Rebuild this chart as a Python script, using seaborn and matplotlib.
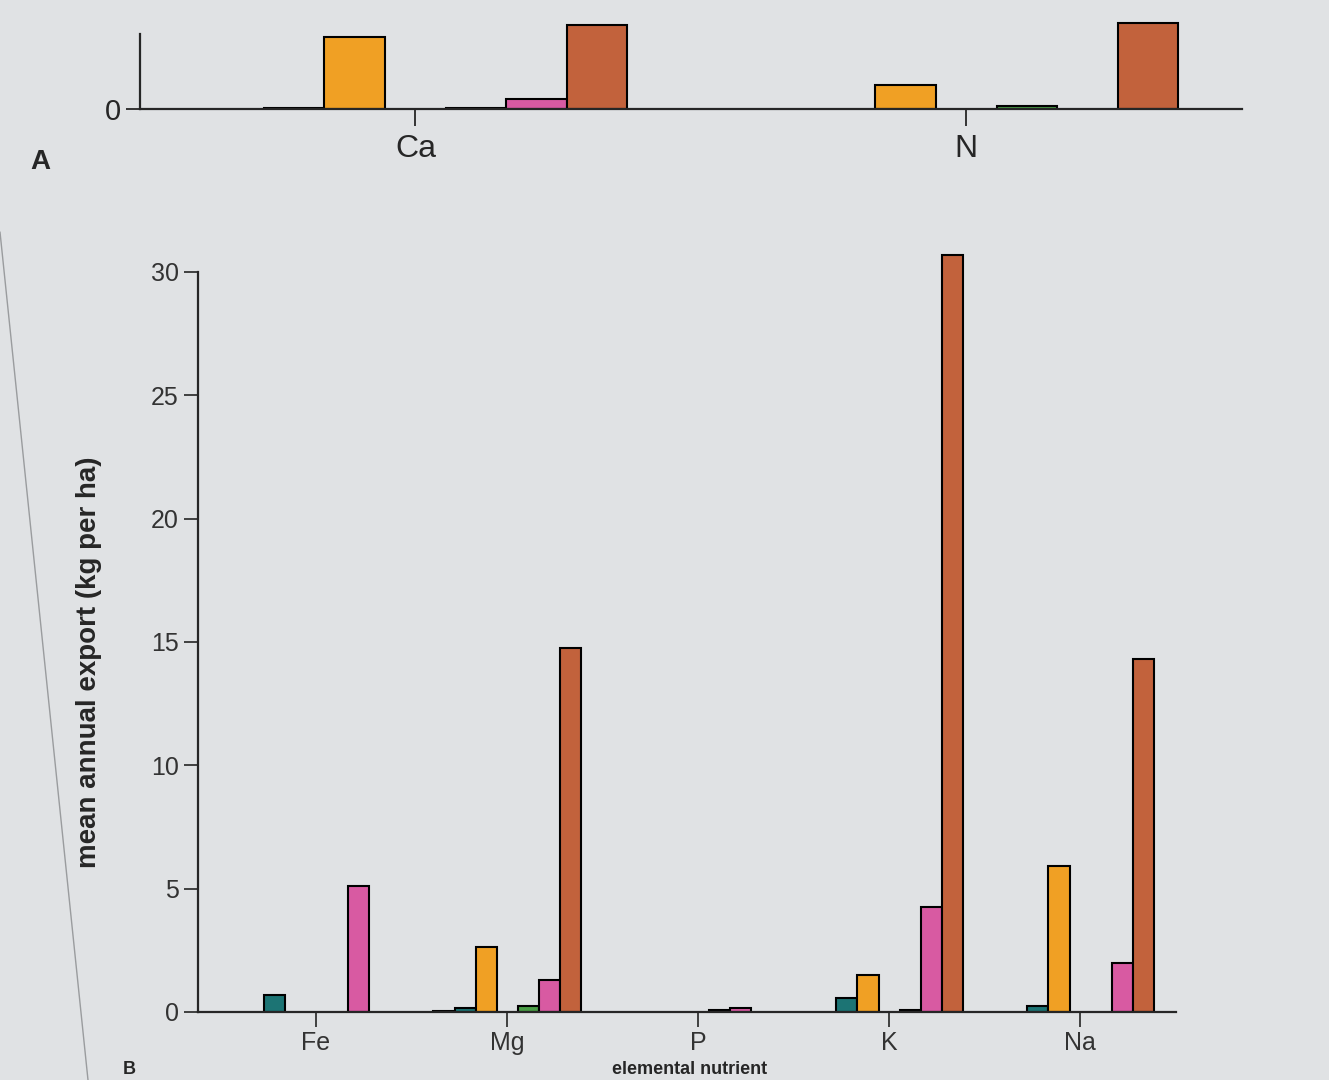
import numpy as np
import pandas as pd
import matplotlib
matplotlib.use("Agg")
import matplotlib.pyplot as plt
import seaborn as sns
from matplotlib.lines import Line2D

# Values (kg per ha); NaN = no bar drawn
elements_top = ["Ca", "N"]
elements_bottom = ["Fe", "Mg", "P", "K", "Na"]

series_names = ["series 1", "series 2", "series 3", " ", "series 4", "series 5", "series 6"]
series_colors = ["#333333", "#1c7474", "#f0a024", "#e0e2e4", "#4a9e46", "#d85aa2", "#c2623c"]

top_s1 = [np.nan, np.nan]
top_s2 = [1.5, np.nan]
top_s3 = [69.0, 23.5]
top_s4 = [1.5, 3.0]
top_s5 = [9.5, np.nan]
top_s6 = [80.5, 83.0]

bot_s1 = [np.nan, 0.05, np.nan, np.nan, np.nan]
bot_s2 = [0.67, 0.15, np.nan, 0.55, 0.25]
bot_s3 = [np.nan, 2.65, np.nan, 1.5, 5.9]
bot_s4 = [np.nan, 0.25, 0.06, 0.06, np.nan]
bot_s5 = [5.1, 1.3, 0.15, 4.25, 2.0]
bot_s6 = [np.nan, 14.75, np.nan, 30.7, 14.3]

bottom_yticks = [0, 5, 10, 15, 20, 25, 30]


def long_table(elements, cols):
    rows = []
    for name, vals in zip([n for n in series_names if n.strip()], cols):
        for el, v in zip(elements, vals):
            if not np.isnan(v):
                rows.append({"element": el, "series": name, "export": v})
    return pd.DataFrame(rows)


df_top = long_table(elements_top, [top_s1, top_s2, top_s3, top_s4, top_s5, top_s6])
df_bot = long_table(elements_bottom, [bot_s1, bot_s2, bot_s3, bot_s4, bot_s5, bot_s6])
palette = dict(zip(series_names, series_colors))

sns.set_style("ticks")
plt.rcParams["font.family"] = ["Liberation Sans", "DejaVu Sans"]
bg = "#e0e2e4"
ink = "#262626"

fig = plt.figure(figsize=(13.29, 10.8), dpi=100, facecolor=bg)

# Panel A (top, only its lower part visible)
ax_a = fig.add_axes([0.1053, 0.899, 0.829, 0.0867], facecolor=bg)
sns.barplot(data=df_top, x="element", y="export", hue="series", order=elements_top,
            hue_order=series_names, palette=palette, saturation=1, width=0.77,
            edgecolor="black", linewidth=1.5, errorbar=None, legend=False, ax=ax_a)
ax_a.set_xlim(-0.5, 1.5)
ax_a.set_ylim(0, 90)
ax_a.set_yticks([0])
ax_a.set_xlabel("")
ax_a.set_ylabel("")
sns.despine(ax=ax_a)
ax_a.spines["left"].set_bounds(0, 72)
for sp in ["left", "bottom"]:
    ax_a.spines[sp].set_linewidth(1.6)
ax_a.tick_params(axis="x", labelsize=23, length=12, width=1.3, colors=ink, pad=6)
ax_a.tick_params(axis="y", labelsize=21, length=10, width=1.3, colors=ink)

# Panel B (main)
ax_b = fig.add_axes([0.1487, 0.063, 0.7358, 0.708], facecolor=bg)
sns.barplot(data=df_bot, x="element", y="export", hue="series", order=elements_bottom,
            hue_order=series_names, palette=palette, saturation=1, width=0.77,
            edgecolor="black", linewidth=1.5, errorbar=None, legend=False, ax=ax_b)
ax_b.set_xlim(-0.62, 4.5)
ax_b.set_ylim(0, 31)
ax_b.set_yticks(bottom_yticks)
ax_b.set_xlabel("")
ax_b.set_ylabel("mean annual export (kg per ha)", fontsize=20, fontweight="bold", color=ink)
ax_b.yaxis.set_label_coords(-0.098, 0.457)
sns.despine(ax=ax_b)
ax_b.spines["left"].set_bounds(0, 30)
for sp in ["left", "bottom"]:
    ax_b.spines[sp].set_linewidth(1.6)
ax_b.tick_params(axis="x", labelsize=18, length=11, width=1.3, colors="#333333", pad=3)
ax_b.tick_params(axis="y", labelsize=18, length=10, width=1.3, colors="#333333")

# panel letters and the x label squeezed at the lower edge
fig.text(40 / 1329, 1 - 162 / 1080, "A", fontsize=20, fontweight="bold", color=ink,
         ha="center", va="center")
fig.text(123 / 1329, 0.002, "B", fontsize=13, fontweight="bold", color=ink,
         ha="left", va="bottom")
fig.text(690 / 1329, 0.002, "elemental nutrient", fontsize=13, fontweight="bold",
         color=ink, ha="center", va="bottom")

# edge of the screen seen in the photo
fig.add_artist(Line2D([0.0, 88 / 1329], [1 - 232 / 1080, 0.0], transform=fig.transFigure,
                      color="#9a9c9e", linewidth=1.0))

fig.savefig("out.png", dpi=100, facecolor=bg)
